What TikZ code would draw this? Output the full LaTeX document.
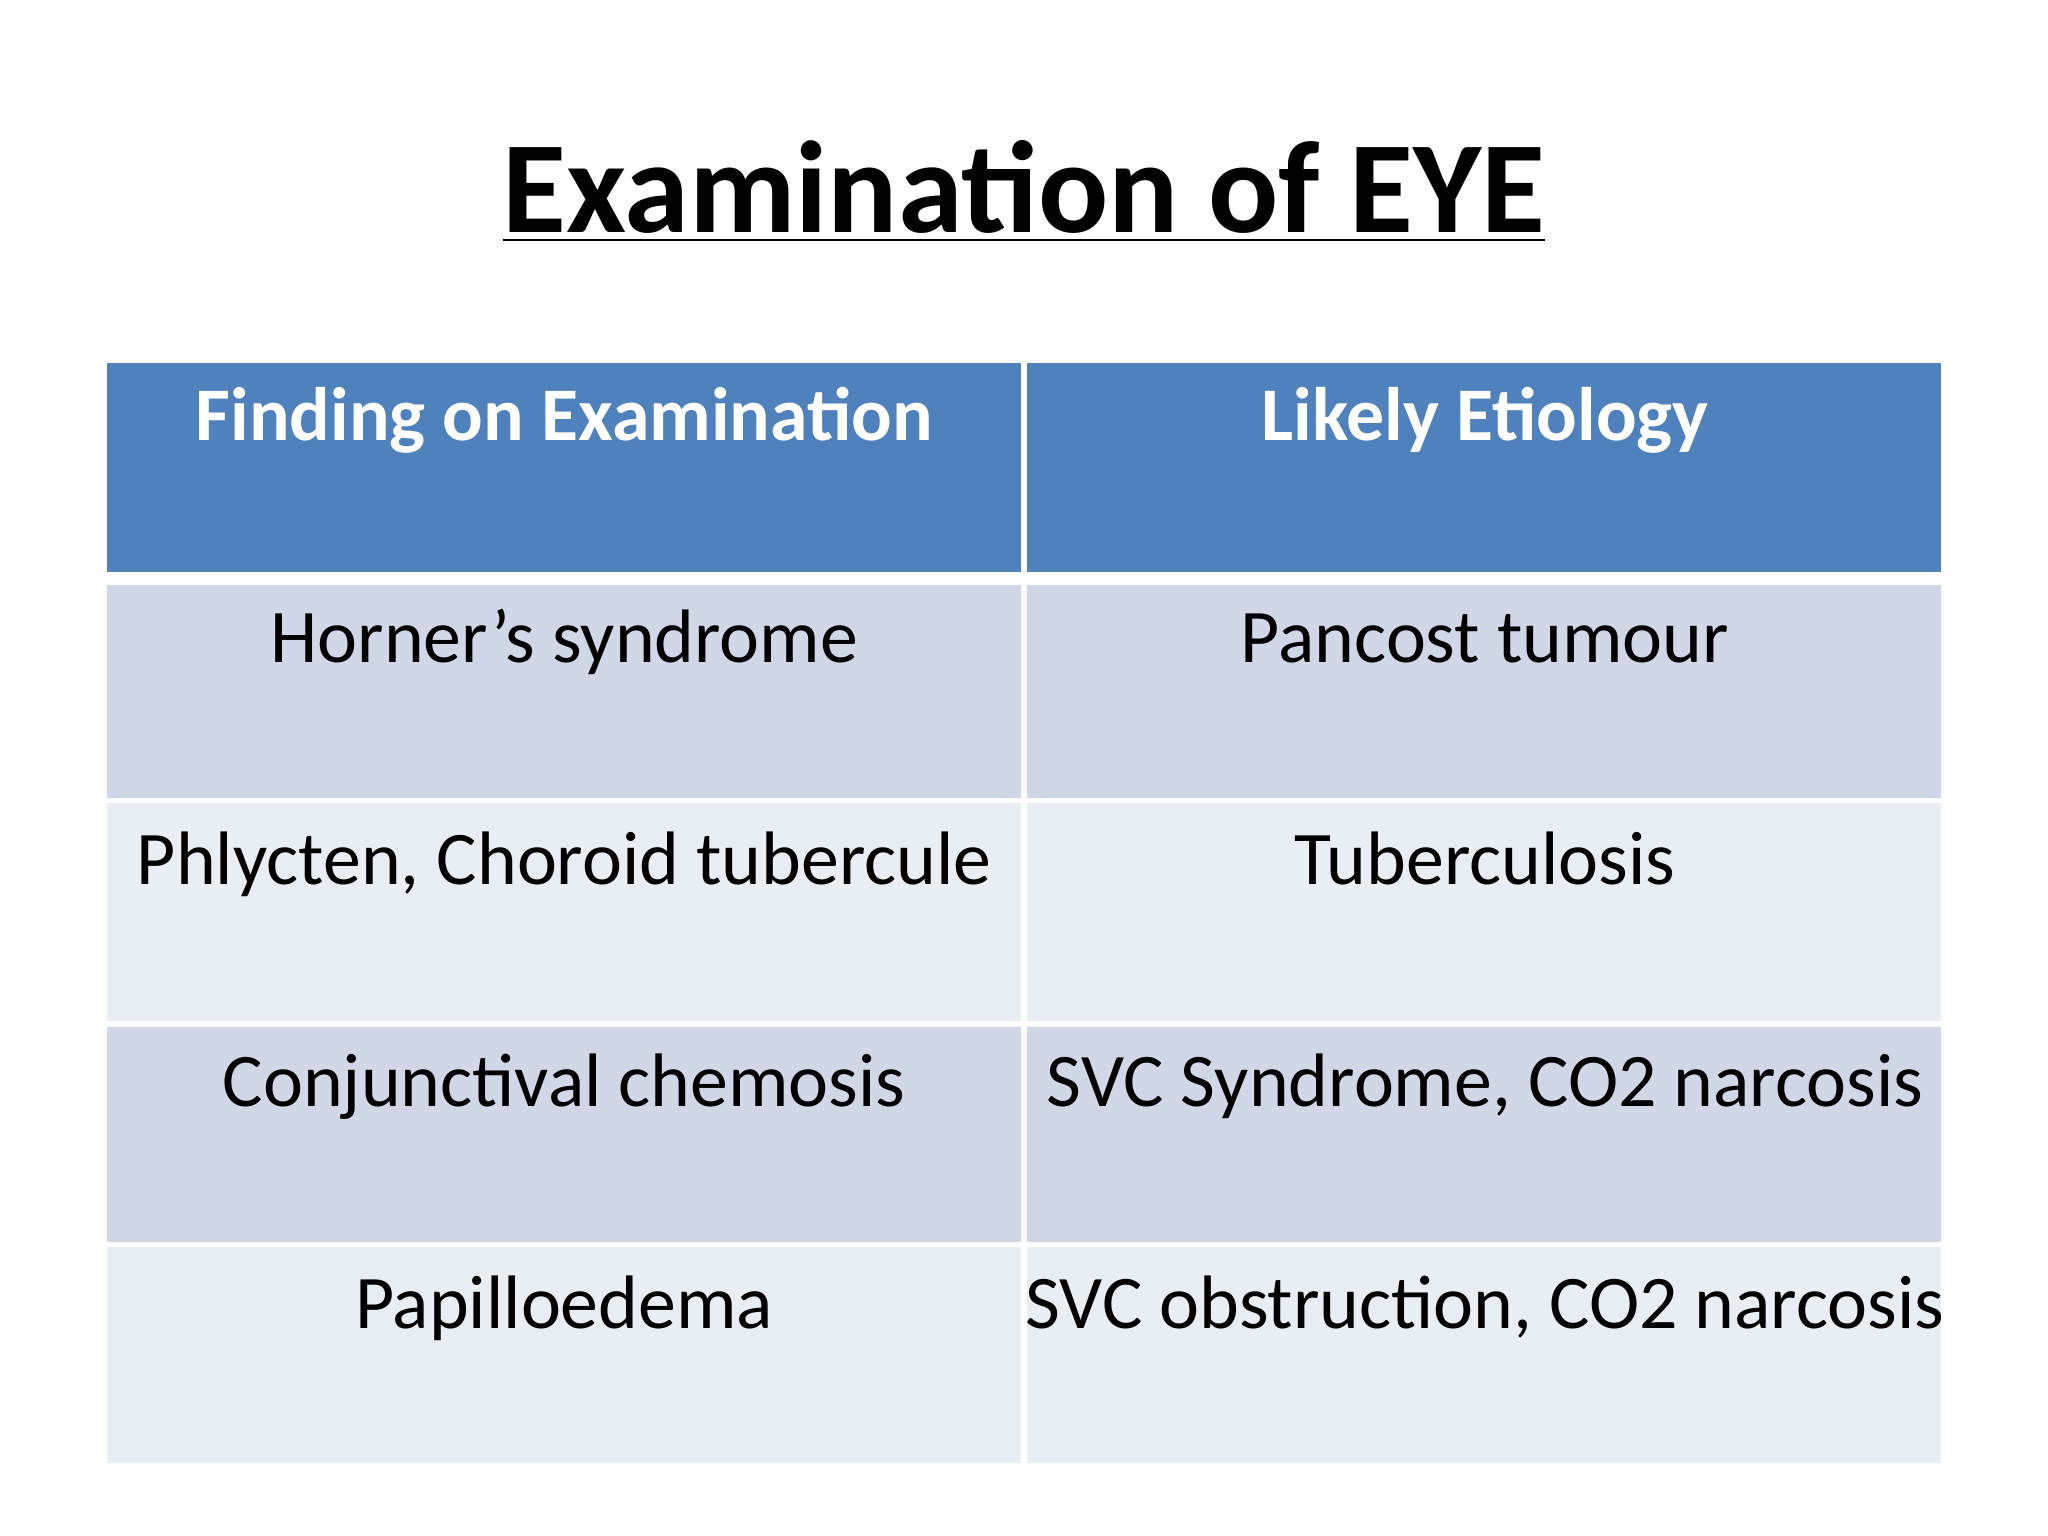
\documentclass[tikz,border=0pt]{standalone}
\usepackage{fontspec}
\setmainfont{Carlito}
\definecolor{hdr}{HTML}{4F81BD}
\definecolor{rowa}{HTML}{D0D8E8}
\definecolor{rowb}{HTML}{E9EDF4}
\begin{document}
\begin{tikzpicture}[x=0.01cm,y=-0.01cm,
  cell/.style={draw=white,line width=1.2pt,minimum width=704\pgflinewidth,inner sep=0pt},
  body/.style={font=\fontsize{16.5}{18}\selectfont,anchor=base},
  head/.style={font=\bfseries\fontsize{16.5}{18}\selectfont,anchor=base,text=white}]
\useasboundingbox (0,0) rectangle (1568,1176);
\fill[white] (0,0) rectangle (1568,1176);
\node[font=\bfseries\fontsize{28.5}{32}\selectfont,anchor=base] (title) at (784,178) {\underline{Examination of EYE}};
% cells
\foreach \ya/\yb/\c [count=\i] in {276/443/hdr,443/613/rowa,613/784/rowb,784/953/rowa,953/1122/rowb}{
  \filldraw[fill=\c,draw=white,line width=1.2pt] (80,\ya) rectangle (784,\yb);
  \filldraw[fill=\c,draw=white,line width=1.2pt] (784,\ya) rectangle (1488,\yb);
}
\draw[white,line width=3pt] (80,443) -- (1488,443);
\node[head] (h1) at (432,337) {Finding on Examination};
\node[head] (h2) at (1137,337) {Likely Etiology};
\node[body] (a1) at (432,507) {Horner’s syndrome};
\node[body] (b1) at (1137,507) {Pancost tumour};
\node[body] (a2) at (432,677) {Phlycten, Choroid tubercule};
\node[body] (b2) at (1137,677) {Tuberculosis};
\node[body] (a3) at (432,847) {Conjunctival chemosis};
\node[body] (b3) at (1137,847) {SVC Syndrome, CO2 narcosis};
\node[body] (a4) at (432,1017) {Papilloedema};
\node[body] (b4) at (1137,1017) {SVC obstruction, CO2 narcosis};
\end{tikzpicture}
\end{document}
